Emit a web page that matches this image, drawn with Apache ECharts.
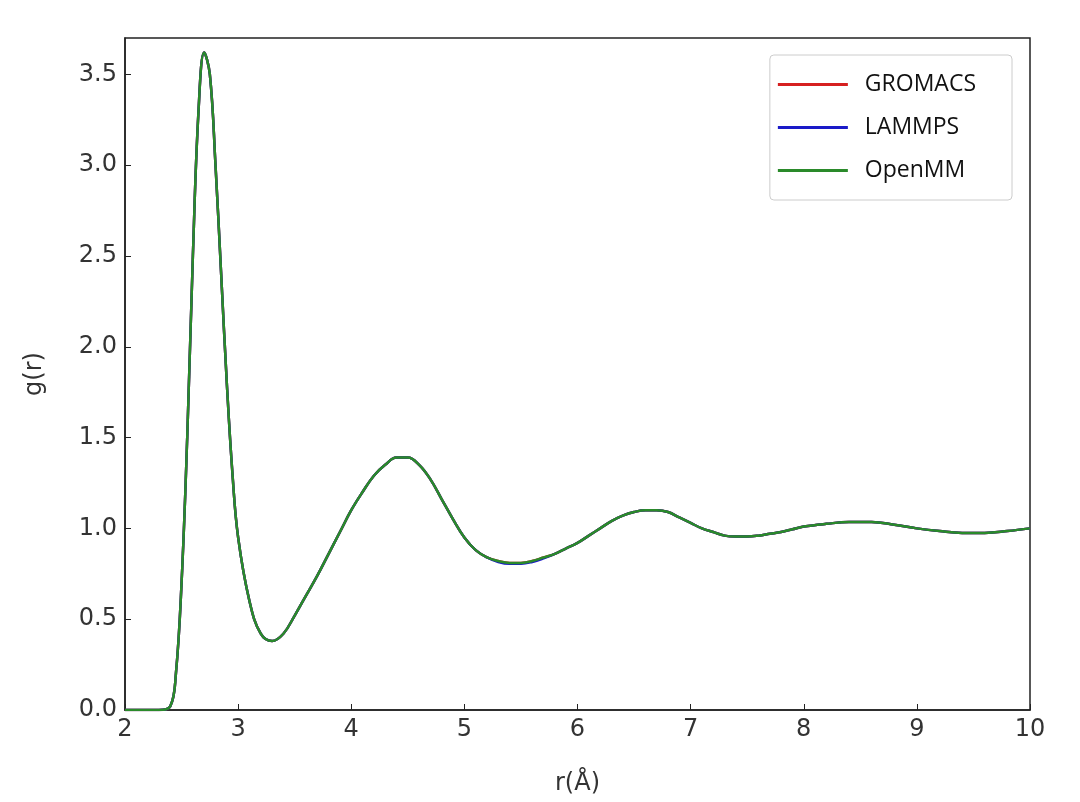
<!DOCTYPE html>
<html>
<head>
<meta charset="utf-8">
<script src="https://cdn.jsdelivr.net/npm/echarts@6/dist/echarts.min.js"></script>
<style>html,body{margin:0;background:#fff}#chart{width:1080px;height:802px}</style>
</head>
<body>
<div id="chart"></div>
<script>
const r = [2.0, 2.3, 2.4, 2.45, 2.5, 2.55, 2.6, 2.65, 2.7, 2.75, 2.8, 2.85, 2.9, 2.95, 3.0, 3.1, 3.2, 3.3, 3.4, 3.5, 3.6, 3.7, 3.8, 3.9, 4.0, 4.1, 4.2, 4.3, 4.4, 4.5, 4.6, 4.7, 4.8, 4.9, 5.0, 5.1, 5.2, 5.3, 5.4, 5.5, 5.6, 5.7, 5.8, 5.9, 6.0, 6.1, 6.2, 6.3, 6.4, 6.5, 6.6, 6.7, 6.8, 6.9, 7.0, 7.1, 7.2, 7.3, 7.4, 7.5, 7.6, 7.7, 7.8, 7.9, 8.0, 8.2, 8.4, 8.6, 8.8, 9.0, 9.2, 9.4, 9.6, 9.8, 10.0];
const gromacs = [0, 0, 0.02, 0.2, 0.7, 1.5, 2.5, 3.3, 3.62, 3.5, 3.0, 2.4, 1.8, 1.3, 0.95, 0.6, 0.42, 0.38, 0.42, 0.52, 0.63, 0.74, 0.86, 0.98, 1.1, 1.2, 1.29, 1.35, 1.39, 1.39, 1.35, 1.27, 1.16, 1.05, 0.95, 0.88, 0.84, 0.82, 0.81, 0.81, 0.82, 0.84, 0.86, 0.89, 0.92, 0.96, 1.0, 1.04, 1.07, 1.09, 1.1, 1.1, 1.09, 1.06, 1.03, 1.0, 0.98, 0.96, 0.955, 0.955, 0.96, 0.97, 0.98, 0.995, 1.01, 1.025, 1.035, 1.035, 1.02, 1.0, 0.985, 0.975, 0.975, 0.985, 1.0];
const lammps = [0, 0, 0.02, 0.2, 0.7, 1.5, 2.5, 3.3, 3.62, 3.5, 3.0, 2.4, 1.8, 1.3, 0.95, 0.6, 0.42, 0.38, 0.42, 0.52, 0.63, 0.74, 0.86, 0.98, 1.1, 1.2, 1.29, 1.35, 1.39, 1.39, 1.35, 1.27, 1.16, 1.05, 0.95, 0.88, 0.84, 0.815, 0.805, 0.805, 0.815, 0.835, 0.86, 0.89, 0.92, 0.96, 1.0, 1.04, 1.07, 1.09, 1.1, 1.1, 1.09, 1.06, 1.03, 1.0, 0.98, 0.96, 0.955, 0.955, 0.96, 0.97, 0.98, 0.995, 1.01, 1.025, 1.035, 1.035, 1.02, 1.0, 0.985, 0.975, 0.975, 0.985, 1.0];
const openmm = [0, 0, 0.02, 0.2, 0.7, 1.5, 2.5, 3.3, 3.62, 3.5, 3.0, 2.4, 1.8, 1.3, 0.95, 0.6, 0.42, 0.38, 0.42, 0.52, 0.63, 0.74, 0.86, 0.98, 1.1, 1.2, 1.29, 1.35, 1.39, 1.39, 1.35, 1.27, 1.16, 1.05, 0.95, 0.88, 0.84, 0.82, 0.81, 0.81, 0.82, 0.84, 0.86, 0.89, 0.92, 0.96, 1.0, 1.04, 1.07, 1.09, 1.1, 1.1, 1.09, 1.06, 1.03, 1.0, 0.98, 0.96, 0.955, 0.955, 0.96, 0.97, 0.98, 0.995, 1.01, 1.025, 1.035, 1.035, 1.02, 1.0, 0.985, 0.975, 0.975, 0.985, 1.0];

const pairs = ys => r.map((x, i) => [x, ys[i]]);
const line = (name, ys, color) => ({
  name, type: 'line', data: pairs(ys), smooth: 0.4, showSymbol: false,
  lineStyle: { color, width: 2.5 }, itemStyle: { color }
});

const axisCommon = {
  axisLine: { show: true, lineStyle: { color: '#222', width: 1.5 } },
  axisTick: { inside: true, length: 6, lineStyle: { color: '#222' } },
  axisLabel: { color: '#333', fontSize: 24, fontFamily: 'DejaVu Sans' },
  splitLine: { show: false },
  nameTextStyle: { color: '#333', fontSize: 24, fontFamily: 'DejaVu Sans' }
};

const chart = echarts.init(document.getElementById('chart'));
chart.setOption({
  animation: false,
  grid: { left: 125, right: 50, top: 38, bottom: 92, show: true, borderColor: '#222', borderWidth: 1.5 },
  xAxis: { ...axisCommon, type: 'value', min: 2, max: 10, interval: 1, name: 'r(Å)', nameLocation: 'middle', nameGap: 62 },
  yAxis: { ...axisCommon, type: 'value', min: 0, max: 3.7, interval: 0.5, name: 'g(r)', nameLocation: 'middle', nameGap: 78,
    axisLabel: { ...axisCommon.axisLabel, formatter: v => v.toFixed(1), showMaxLabel: false } },
  legend: {
    orient: 'vertical', right: 68, top: 55, padding: [18, 36, 18, 8], itemGap: 20,
    itemWidth: 70, itemHeight: 3, icon: 'rect',
    borderColor: '#ccc', borderWidth: 1, borderRadius: 4,
    textStyle: { fontSize: 23, color: '#111', fontFamily: 'Open Sans', padding: [0, 0, 0, 12] }
  },
  series: [
    line('GROMACS', gromacs, '#d62020'),
    line('LAMMPS', lammps, '#1a1ac8'),
    line('OpenMM', openmm, '#2a8a2a')
  ]
});
</script>
</body>
</html>
